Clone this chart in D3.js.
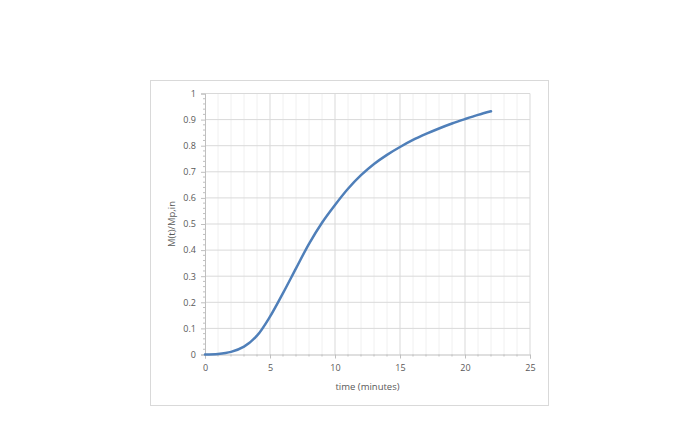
<!DOCTYPE html>
<html>
<head>
<meta charset="utf-8">
<script src="https://cdn.jsdelivr.net/npm/d3@7"></script>
<style>
  body { margin: 0; background: #fff; }
  text { font-family: "Open Sans", "Liberation Sans", sans-serif; fill: #595959; }
</style>
</head>
<body>
<div id="chart"></div>
<script>
// data
const times = [0, 1, 2, 3, 4, 5, 6, 7, 8, 9, 10, 11, 12, 13, 14, 15, 16, 17, 18, 19, 20, 21, 22];
const fraction = [0, 0.002, 0.01, 0.03, 0.072, 0.145, 0.235, 0.33, 0.424, 0.505, 0.573, 0.635, 0.687,
  0.73, 0.765, 0.795, 0.822, 0.845, 0.866, 0.885, 0.902, 0.918, 0.932];
const xTicks = [0, 5, 10, 15, 20, 25];
const yTicks = [0, 0.1, 0.2, 0.3, 0.4, 0.5, 0.6, 0.7, 0.8, 0.9, 1];

const width = 700, height = 437;
const plot = { left: 205, right: 530, top: 93.5, bottom: 354.5 };

const svg = d3.select("#chart").append("svg")
  .attr("width", width)
  .attr("height", height);

// chart border
svg.append("rect")
  .attr("x", 150.5).attr("y", 80.5)
  .attr("width", 398).attr("height", 325)
  .attr("fill", "#fff")
  .attr("stroke", "#d9d9d9");

const x = d3.scaleLinear().domain([0, 25]).range([plot.left, plot.right]);
const y = d3.scaleLinear().domain([0, 1]).range([plot.bottom, plot.top]);

// minor vertical gridlines every minute
svg.append("g")
  .selectAll("line")
  .data(d3.range(1, 26).filter(d => d % 5 !== 0))
  .join("line")
  .attr("x1", d => x(d)).attr("x2", d => x(d))
  .attr("y1", plot.top).attr("y2", plot.bottom)
  .attr("stroke", "#f0f0f0");

// major gridlines
svg.append("g")
  .selectAll("line")
  .data(xTicks.slice(1))
  .join("line")
  .attr("x1", d => x(d)).attr("x2", d => x(d))
  .attr("y1", plot.top).attr("y2", plot.bottom)
  .attr("stroke", "#d9d9d9");

svg.append("g")
  .selectAll("line")
  .data(yTicks.slice(1))
  .join("line")
  .attr("x1", plot.left).attr("x2", plot.right)
  .attr("y1", d => y(d)).attr("y2", d => y(d))
  .attr("stroke", "#d9d9d9");

// x axis
const xAxis = svg.append("g")
  .attr("transform", `translate(0,${plot.bottom})`)
  .call(d3.axisBottom(x).tickValues(xTicks).tickSize(4).tickPadding(6));
xAxis.select(".domain").attr("stroke", "#bfbfbf");
xAxis.selectAll(".tick line").attr("stroke", "#bfbfbf");
xAxis.selectAll("text").style("font-size", "9px").attr("fill", "#595959");

svg.append("g")
  .selectAll("line")
  .data(d3.range(1, 25).filter(d => d % 5 !== 0))
  .join("line")
  .attr("x1", d => x(d)).attr("x2", d => x(d))
  .attr("y1", plot.bottom).attr("y2", plot.bottom + 2)
  .attr("stroke", "#bfbfbf");

// y axis
const yAxis = svg.append("g")
  .attr("transform", `translate(${plot.left},0)`)
  .call(d3.axisLeft(y).tickValues(yTicks).tickSize(4).tickPadding(5).tickFormat(d3.format("~g")));
yAxis.select(".domain").attr("stroke", "#bfbfbf");
yAxis.selectAll(".tick line").attr("stroke", "#bfbfbf");
yAxis.selectAll("text").style("font-size", "9px").attr("fill", "#595959");

svg.append("g")
  .selectAll("line")
  .data(d3.range(1, 50).filter(d => d % 5 !== 0).map(d => d / 50))
  .join("line")
  .attr("x1", plot.left - 2).attr("x2", plot.left)
  .attr("y1", d => y(d)).attr("y2", d => y(d))
  .attr("stroke", "#bfbfbf");

// axis titles
svg.append("text")
  .attr("x", (plot.left + plot.right) / 2)
  .attr("y", 390)
  .attr("text-anchor", "middle")
  .style("font-size", "9.5px")
  .text("time (minutes)");

svg.append("text")
  .attr("transform", `translate(175,${(plot.top + plot.bottom) / 2}) rotate(-90)`)
  .attr("text-anchor", "middle")
  .style("font-size", "9.5px")
  .text("M(t)/Mp,in");

// the curve
const line = d3.line()
  .x((d, i) => x(times[i]))
  .y(d => y(d))
  .curve(d3.curveCatmullRom.alpha(0.5));

svg.append("path")
  .datum(fraction)
  .attr("d", line)
  .attr("fill", "none")
  .attr("stroke", "#4f7fb9")
  .attr("stroke-width", 2.5)
  .attr("stroke-linecap", "round");
</script>
</body>
</html>
